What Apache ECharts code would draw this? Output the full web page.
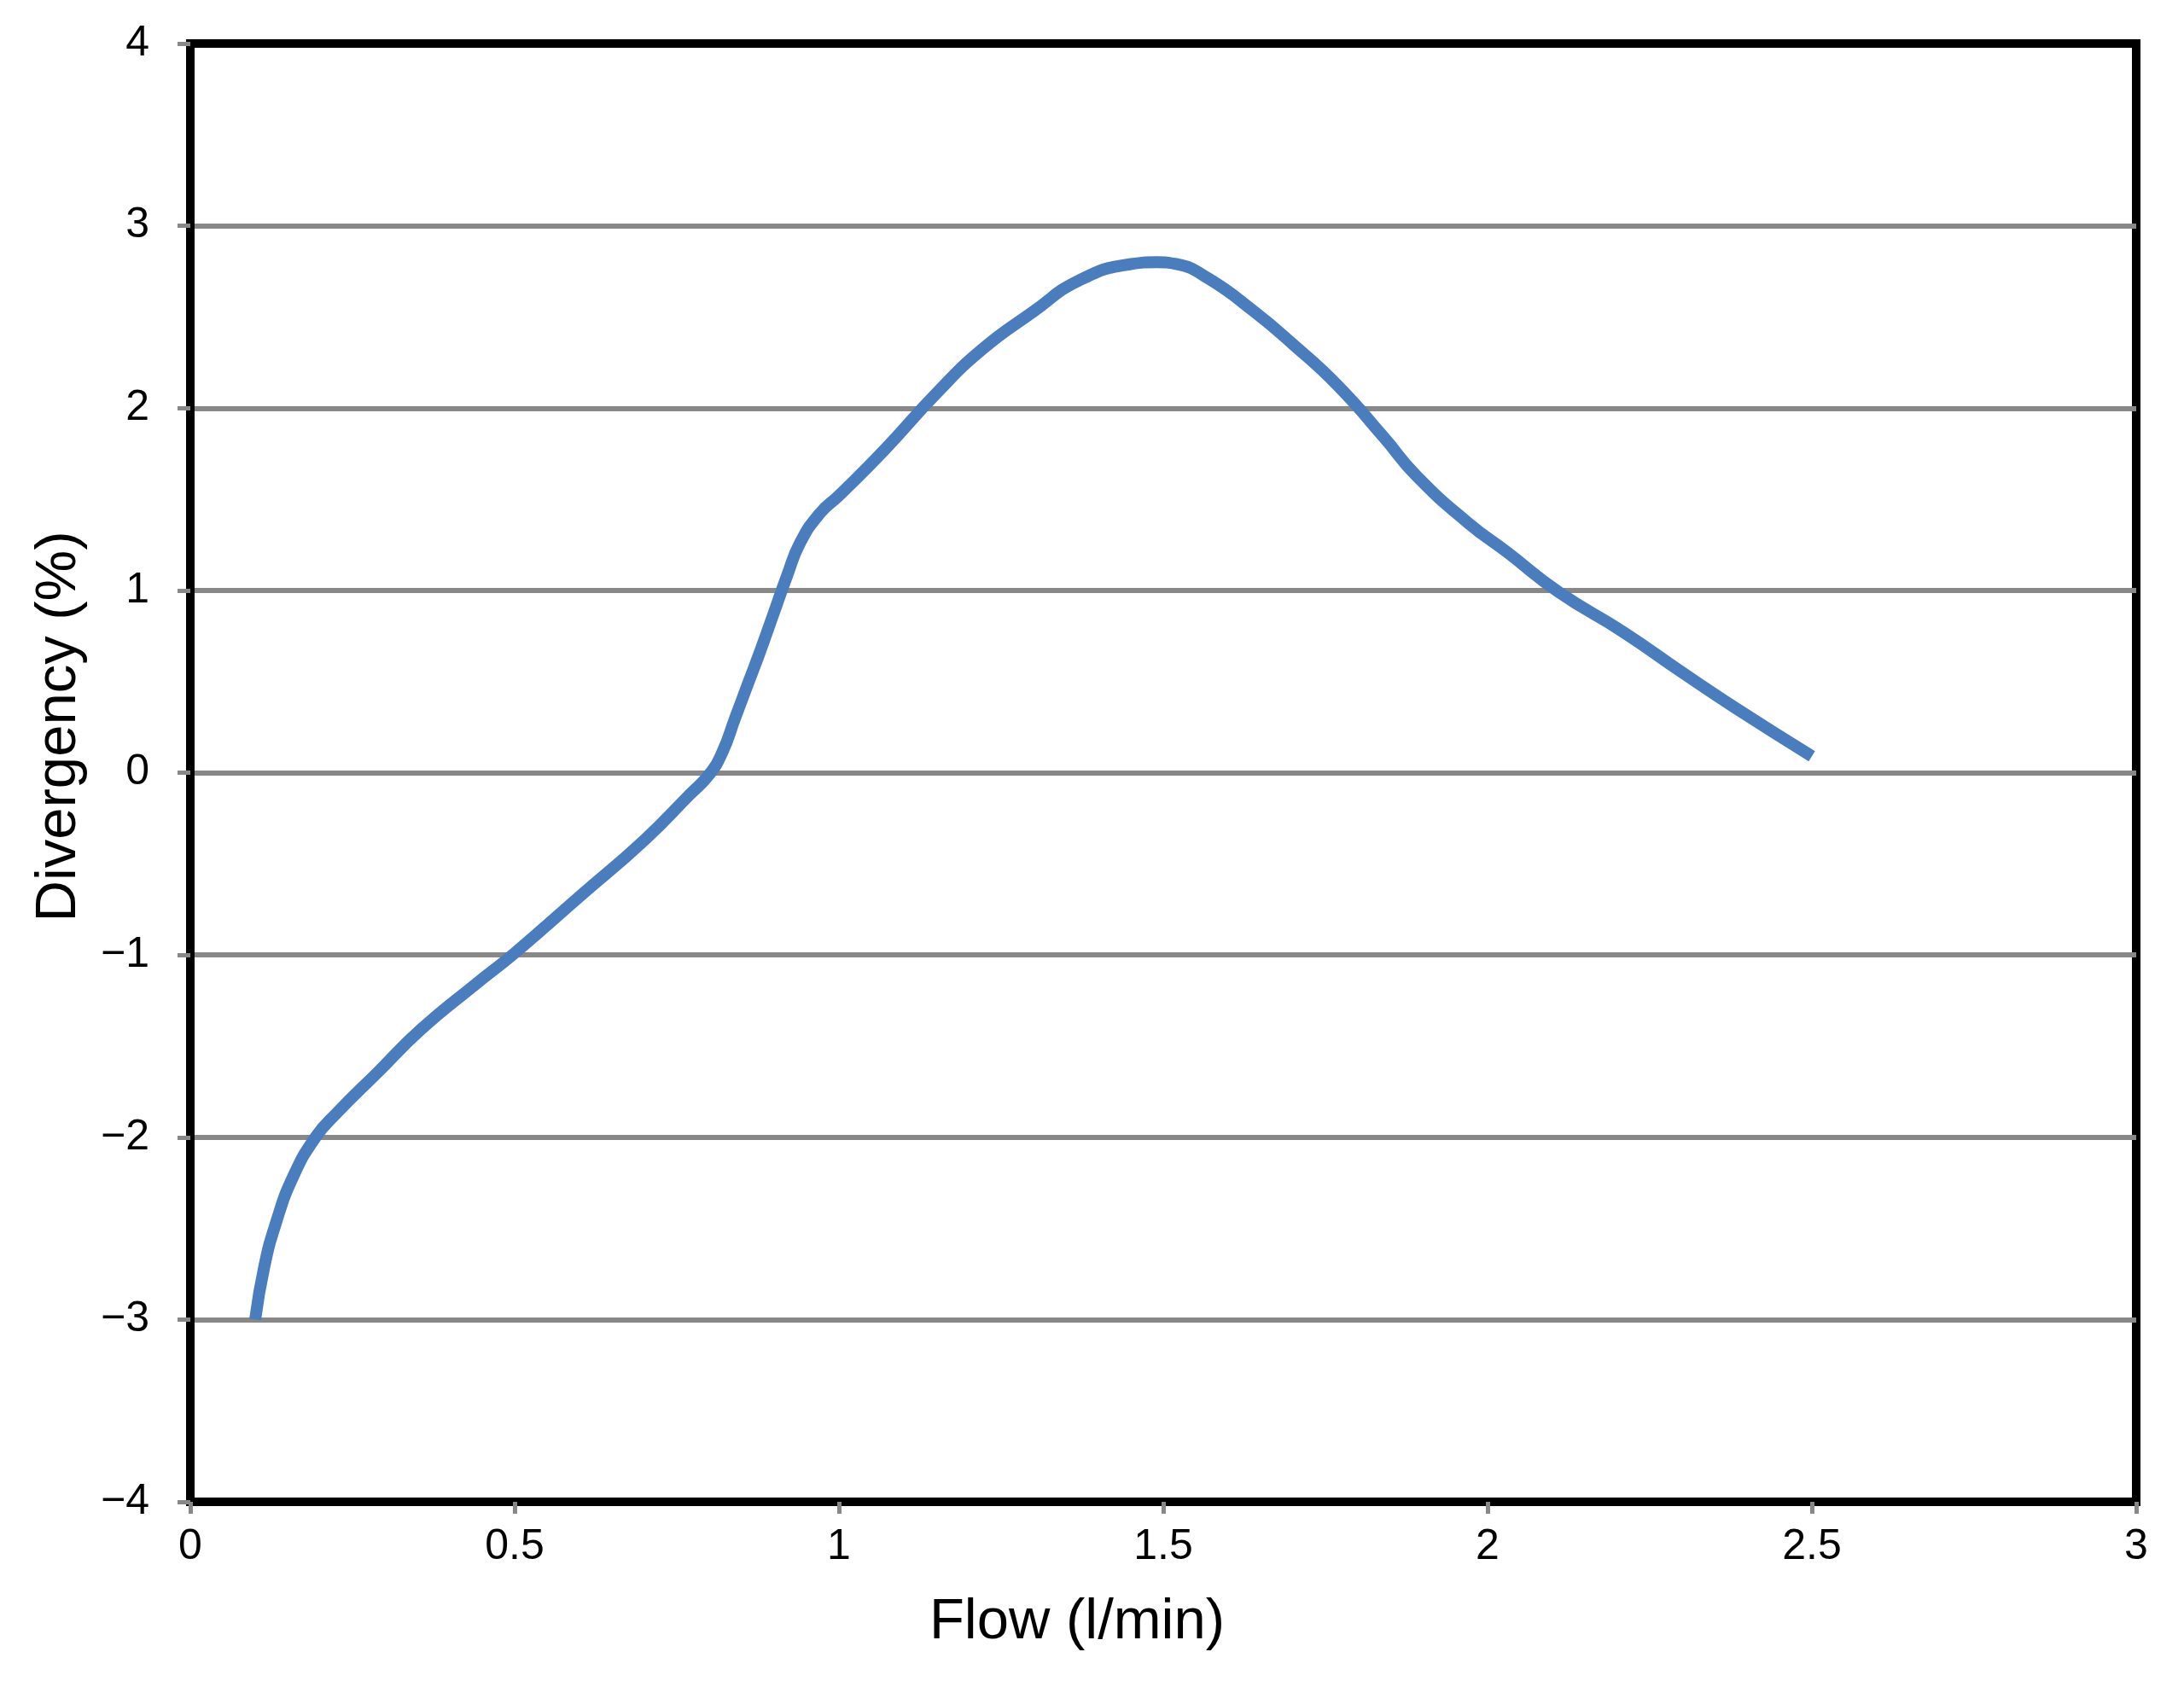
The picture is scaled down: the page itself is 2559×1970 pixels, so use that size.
<!DOCTYPE html>
<html>
<head>
<meta charset="utf-8">
<script src="https://cdn.jsdelivr.net/npm/echarts@6/dist/echarts.min.js"></script>
<style>
html,body{margin:0;padding:0;background:#fff;}
#chart{width:2559px;height:1970px;}
</style>
</head>
<body>
<div id="chart"></div>
<script>
const flow = [0.10, 0.114, 0.132, 0.158, 0.193, 0.225, 0.29, 0.355, 0.44, 0.50, 0.60, 0.70, 0.77, 0.80, 0.82, 0.84, 0.86, 0.88, 0.90, 0.92, 0.94, 0.97, 1.00, 1.07, 1.15, 1.22, 1.30, 1.37, 1.45, 1.49, 1.52, 1.57, 1.64, 1.70, 1.77, 1.84, 1.89, 1.97, 2.03, 2.11, 2.21, 2.30, 2.38, 2.50];
const divergency = [-3.0, -2.71, -2.47, -2.22, -2.0, -1.87, -1.64, -1.41, -1.16, -0.99, -0.68, -0.37, -0.12, -0.01, 0.11, 0.30, 0.49, 0.68, 0.88, 1.08, 1.26, 1.42, 1.52, 1.77, 2.08, 2.32, 2.53, 2.70, 2.79, 2.80, 2.79, 2.71, 2.53, 2.35, 2.12, 1.84, 1.63, 1.37, 1.21, 0.99, 0.77, 0.55, 0.36, 0.09];
const xTickLabels = ['0', '0.5', '1', '1.5', '2', '2.5', '3'];
const yTickLabels = ['\u22124', '\u22123', '\u22122', '\u22121', '0', '1', '2', '3', '4'];
const xTitle = 'Flow (l/min)';
const yTitle = 'Divergency (%)';

const points = flow.map((x, i) => [x, divergency[i]]);
const font = 'Liberation Sans, Arial, sans-serif';

const chart = echarts.init(document.getElementById('chart'), null, {renderer: 'canvas'});
chart.setOption({
  animation: false,
  backgroundColor: '#ffffff',
  grid: {
    left: 223, right: 56, top: 51, bottom: 210,
    show: true, borderColor: '#000000', borderWidth: 10, backgroundColor: 'transparent'
  },
  xAxis: {
    type: 'value', min: 0, max: 3, interval: 0.5,
    name: xTitle, nameLocation: 'middle', nameGap: 108,
    nameTextStyle: {fontFamily: font, fontSize: 67, color: '#000', padding: [0, 202, 0, 0]},
    axisLine: {show: true, onZero: false, lineStyle: {color: '#000', width: 10}},
    axisTick: {show: true, length: 14, lineStyle: {color: '#888888', width: 5}},
    axisLabel: {
      fontFamily: font, fontSize: 50, color: '#000', margin: 28,
      formatter: v => xTickLabels[Math.round(v / 0.5)]
    },
    splitLine: {show: false}
  },
  yAxis: {
    type: 'value', min: -4, max: 4, interval: 1,
    name: yTitle, nameLocation: 'middle', nameGap: 120, nameRotate: 90,
    nameTextStyle: {fontFamily: font, fontSize: 67, color: '#000', padding: [0, 0, 0, 108]},
    axisLine: {show: true, onZero: false, lineStyle: {color: '#000', width: 10}},
    axisTick: {show: true, length: 15, lineStyle: {color: '#888888', width: 5}},
    axisLabel: {
      fontFamily: font, fontSize: 50, color: '#000', margin: 48,
      formatter: v => yTickLabels[Math.round(v + 4)]
    },
    splitLine: {show: true, showMinLine: false, showMaxLine: false, lineStyle: {color: '#888888', width: 6}}
  },
  series: [{
    type: 'line',
    data: points,
    smooth: 0.5,
    showSymbol: false,
    symbol: 'none',
    lineStyle: {color: '#4a7dbd', width: 14, cap: 'butt', join: 'round'},
    z: 3
  }]
});
</script>
</body>
</html>
